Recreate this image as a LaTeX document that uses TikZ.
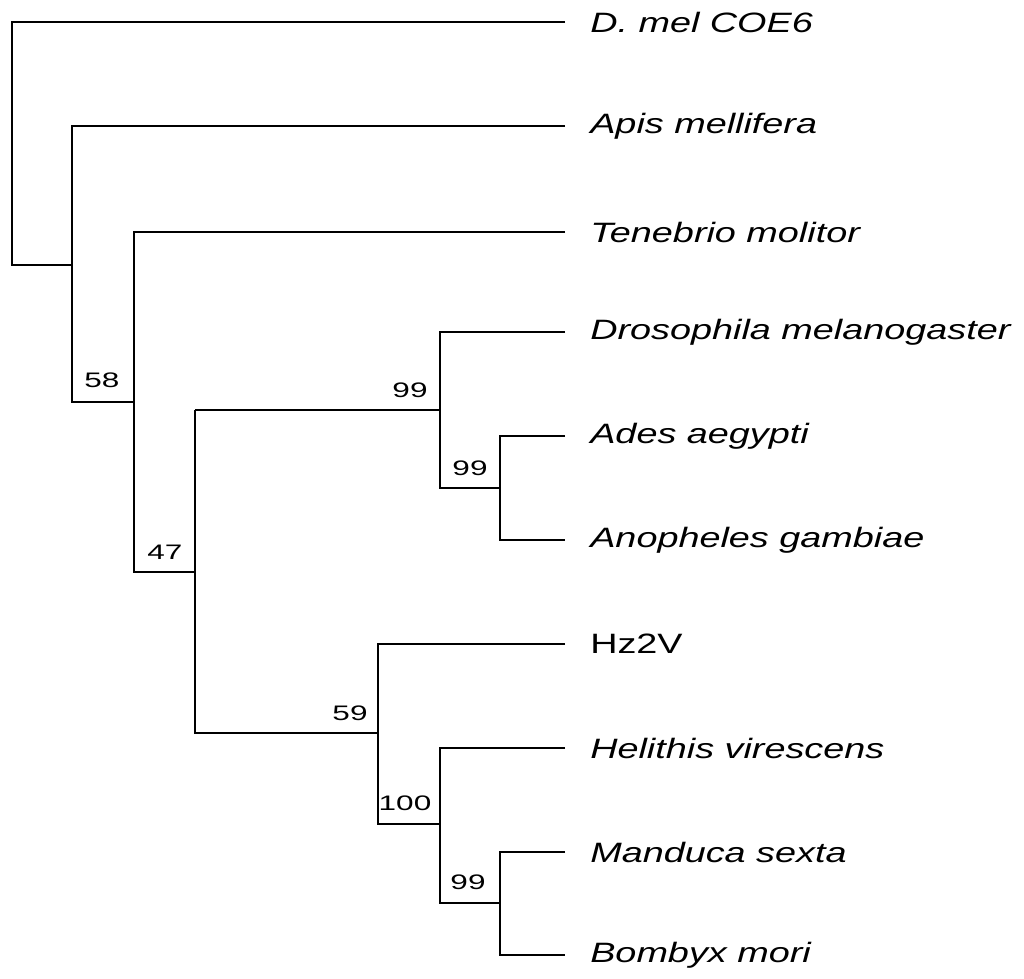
\documentclass[tikz,border=0pt]{standalone}
\usepackage{fontspec}
\setmainfont{Liberation Sans}
\begin{document}
\begin{tikzpicture}[x=1pt,y=-1pt,
  br/.style={draw=black,line width=2pt},
  leaf/.style={anchor=west,font=\fontsize{28}{30}\selectfont\itshape,inner sep=0pt,xscale=1.35},
  leafr/.style={anchor=west,font=\fontsize{28}{30}\selectfont,inner sep=0pt,xscale=1.35},
  bs/.style={font=\fontsize{21}{24}\selectfont,inner sep=0pt,xscale=1.5}]
\useasboundingbox (0,0) rectangle (1024,978);
\foreach \n/\y in {l1/22,l2/126,l3/232,l4/332,l5/436,l6/540,l7/644,l8/748,l9/852,l10/955}
  \coordinate (\n) at (565,\y);
\node[leaf] (t1) at (590,22) {D. mel COE6};
\node[leaf] (t2) at (590,126) {Apis mellifera};
\node[leaf] (t3) at (590,232) {Tenebrio molitor};
\node[leaf] (t4) at (590,332) {Drosophila melanogaster};
\node[leaf] (t5) at (590,436) {Ades aegypti};
\node[leaf] (t6) at (590,540) {Anopheles gambiae};
\node[leafr] (t7) at (590,644) {Hz2V};
\node[leaf] (t8) at (590,748) {Helithis virescens};
\node[leaf] (t9) at (590,852) {Manduca sexta};
\node[leaf] (t10) at (590,955) {Bombyx mori};
\draw[br] (l1) -| (12,265) -- (72,265);
\draw[br] (l2) -| (72,402) -- (134,402);
\draw[br] (l3) -| (134,572) -- (195,572);
\draw[br] (195,410) |- (195,733) -- (378,733);
\draw[br] (195,410) -- (440,410);
\draw[br] (l4) -| (440,488) -- (500,488);
\draw[br] (l5) -| (500,540) -- (l6);
\draw[br] (l7) -| (378,824) -- (440,824);
\draw[br] (l8) -| (440,903) -- (500,903);
\draw[br] (l9) -| (500,955) -- (l10);
\node[bs] (b58) at (102,380) {58};
\node[bs] (b47) at (165,552) {47};
\node[bs] (b99a) at (410,390) {99};
\node[bs] (b99b) at (470,468) {99};
\node[bs] (b59) at (350,713) {59};
\node[bs] (b100) at (405,803) {100};
\node[bs] (b99c) at (468,882) {99};
\end{tikzpicture}
\end{document}
